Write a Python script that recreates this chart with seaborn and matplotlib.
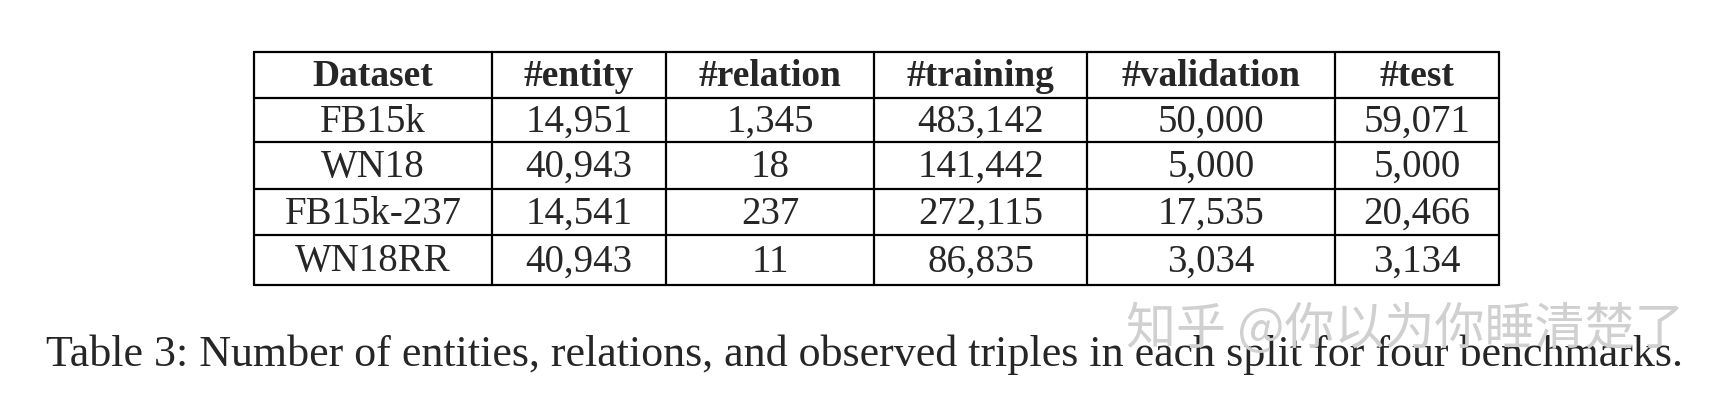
import matplotlib
matplotlib.use("Agg")
import matplotlib.pyplot as plt
import seaborn as sns

headers = ["Dataset", "#entity", "#relation", "#training", "#validation", "#test"]
datasets = ["FB15k", "WN18", "FB15k-237", "WN18RR"]
entity = ["14,951", "40,943", "14,541", "40,943"]
relation = ["1,345", "18", "237", "11"]
training = ["483,142", "141,442", "272,115", "86,835"]
validation = ["50,000", "5,000", "17,535", "3,034"]
test = ["59,071", "5,000", "20,466", "3,134"]
caption = "Table 3: Number of entities, relations, and observed triples in each split for four benchmarks."
watermark = "知乎 @你以为你睡清楚了"

sns.set_theme(style="white")
plt.rcParams['font.family'] = ['Liberation Serif', 'DejaVu Serif']

fig = plt.figure(figsize=(17.26, 4.08), dpi=100)
ax = fig.add_axes([0, 0, 1, 1])
ax.set_xlim(0, 1726)
ax.set_ylim(408, 0)
ax.axis("off")

xs = [254, 492, 666, 874, 1087, 1335, 1499]
ys = [52, 98, 142, 189, 235, 285]
for y in ys:
    ax.plot([xs[0], xs[-1]], [y, y], color="black", lw=1.6)
for x in xs:
    ax.plot([x, x], [ys[0], ys[-1]], color="black", lw=1.6)

cols = [datasets, entity, relation, training, validation, test]
for j, h in enumerate(headers):
    cx = (xs[j] + xs[j + 1]) / 2
    ax.text(cx, (ys[0] + ys[1]) / 2 + 1, h, ha="center", va="center", fontsize=27, fontweight="bold")
    for i, v in enumerate(cols[j]):
        ax.text(cx, (ys[i + 1] + ys[i + 2]) / 2 + 2, v, ha="center", va="center", fontsize=28)

ax.text(1405, 330, watermark, ha="center", va="center", fontsize=36, color="#d0d0d0",
        family=['Noto Sans CJK SC', 'DejaVu Sans'], zorder=3)
ax.text(46, 355, caption, ha="left", va="center", fontsize=31.7, zorder=2)

fig.savefig("out.png", dpi=100, facecolor="white")
